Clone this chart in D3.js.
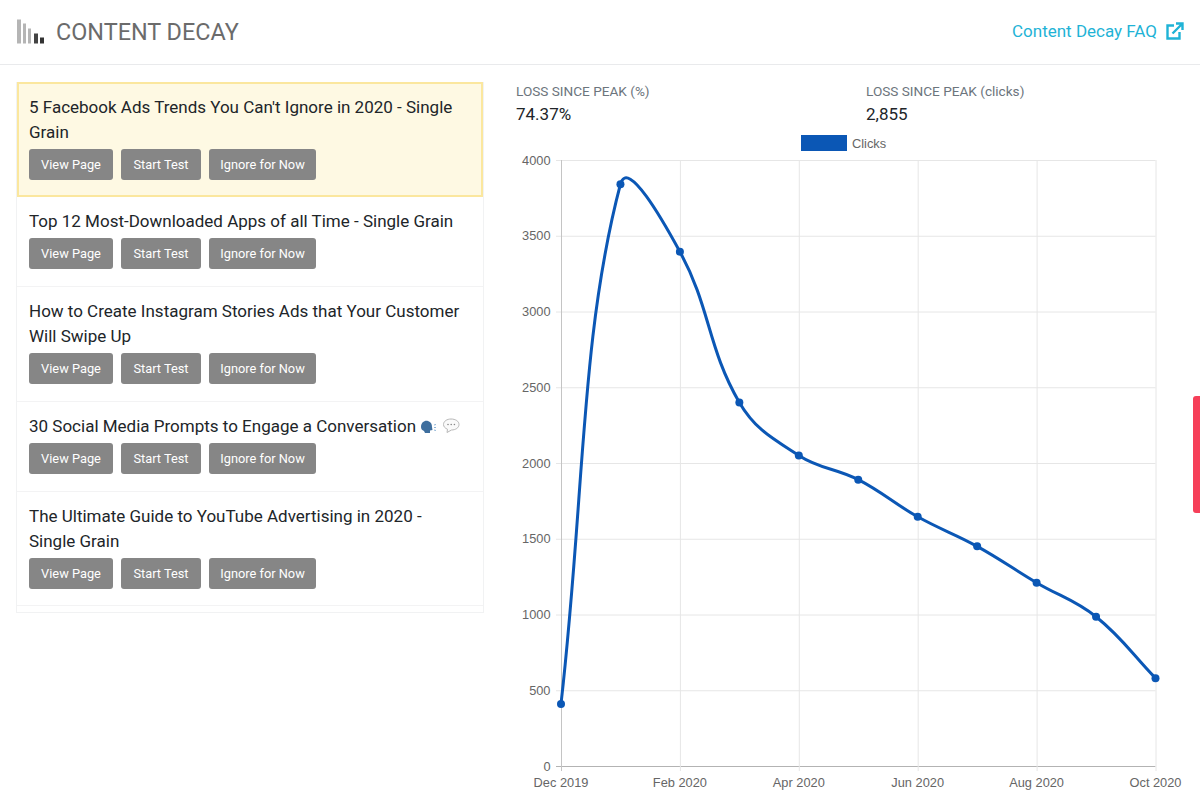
<!DOCTYPE html>
<html>
<head>
<meta charset="utf-8">
<script src="https://d3js.org/d3.v7.min.js"></script>
<style>
    html, body { margin: 0; padding: 0; background: #fff; }
    body { width: 1200px; height: 806px; overflow: hidden; position: relative; font-family: Roboto, sans-serif; color: #212529; }
    .header-line { position: absolute; left: 0; top: 64px; width: 1200px; height: 1px; background: #e9eaec; }
    .title { position: absolute; left: 56px; top: 16.5px; font-size: 23.4px; line-height: 30px; color: #6b6b6b; }
    .faq { position: absolute; left: 1012px; top: 20px; font-size: 17px; line-height: 23px; color: #1fb3d6; }
    .page-list { position: absolute; left: 16px; top: 82px; width: 465.5px; height: 530px; border: 1px solid #f1f2f3; border-top: 0; }
    .item { position: absolute; left: 0; width: 465.5px; box-sizing: border-box; padding: 12px 12px 0 12px; border-bottom: 1px solid #f3f3f4; }
    .item.active { background: #fef9e3; border: 2px solid #fbe79e; padding: 11px 10px 0 10px; top: 0; }
    .item-title { font-size: 17px; line-height: 25px; white-space: pre-wrap; }
    .item-title svg { vertical-align: -3px; margin-left: 3px; }
    .btn { display: inline-block; height: 31px; line-height: 31px; margin: 4px 8px 0 0; border-radius: 3px; background: #868686; color: #fff; font-size: 12.8px; text-align: center; }
    .stat-label { position: absolute; top: 82px; font-size: 13.6px; line-height: 18px; color: #6c757d; }
    .stat-value { position: absolute; top: 103px; font-size: 17px; line-height: 22px; color: #212529; }
    .tab { position: absolute; left: 1193px; top: 396px; width: 7px; height: 117px; background: #f63f59; border-radius: 3px 0 0 3px; }
    svg.abs { position: absolute; }
    #chart { position: absolute; left: 0; top: 0; }
    #chart text { font-family: "Liberation Sans", Arial, sans-serif; font-size: 12.8px; fill: #666; }
</style>
</head>
<body>
<script>
// Chart data
const months = ['Dec 2019', 'Jan 2020', 'Feb 2020', 'Mar 2020', 'Apr 2020', 'May 2020', 'Jun 2020', 'Jul 2020', 'Aug 2020', 'Sep 2020', 'Oct 2020'];
const clicks = [410, 3840, 3395, 2400, 2050, 1890, 1645, 1450, 1210, 985, 580];
const monthTicks = ['Dec 2019', 'Feb 2020', 'Apr 2020', 'Jun 2020', 'Aug 2020', 'Oct 2020'];
const clickTicks = [0, 500, 1000, 1500, 2000, 2500, 3000, 3500, 4000];
const seriesName = 'Clicks';

// Side panel data
const pageTitles = [
    "5 Facebook Ads Trends You Can't Ignore in 2020 - Single Grain",
    'Top 12 Most-Downloaded Apps of all Time - Single Grain',
    'How to Create Instagram Stories Ads that Your Customer Will Swipe Up',
    '30 Social Media Prompts to Engage a Conversation',
    'The Ultimate Guide to YouTube Advertising in 2020 - Single Grain'
];
const itemTops = [0, 115, 205, 319.5, 409.5];
const buttonLabels = ['View Page', 'Start Test', 'Ignore for Now'];
const buttonWidths = [84, 80, 107];
const statLabels = ['LOSS SINCE PEAK (%)', 'LOSS SINCE PEAK (clicks)'];
const statValues = ['74.37%', '2,855'];
const statLefts = [516, 866];

const body = d3.select('body');

// Header
body.append('div').attr('class', 'header-line');
body.append('div').attr('class', 'title').text('CONTENT DECAY');
body.append('div').attr('class', 'faq').text('Content Decay FAQ');

const logo = body.append('svg').attr('class', 'abs')
    .style('left', '17px').style('top', '19px')
    .attr('width', 28).attr('height', 25);
logo.selectAll('rect')
    .data([[0, 0, 4, '#b5b5b5'], [6, 4, 3, '#b5b5b5'], [11, 9, 3, '#b5b5b5'], [17, 14, 4, '#444'], [23, 18, 4, '#333']])
    .enter()
    .append('rect')
    .attr('x', d => d[0])
    .attr('y', d => d[1] + 0.5)
    .attr('width', d => d[2])
    .attr('height', d => 24 - d[1])
    .attr('fill', d => d[3]);

const linkIcon = body.append('svg').attr('class', 'abs')
    .style('left', '1165px').style('top', '21px')
    .attr('width', 19).attr('height', 20)
    .attr('viewBox', '0 0 19 20');
linkIcon.append('path')
    .attr('d', 'M9 4.5H2.5V17.5H14.5V11 M7.5 12.5L17 3 M11 2.5H17.5V9')
    .attr('fill', 'none')
    .attr('stroke', '#1fb3d6')
    .attr('stroke-width', 2.4);

// Page list
const items = body.append('div').attr('class', 'page-list')
    .selectAll('.item')
    .data(pageTitles)
    .enter()
    .append('div')
    .attr('class', (d, i) => i === 0 ? 'item active' : 'item')
    .style('top', (d, i) => itemTops[i] + 'px')
    .style('height', (d, i) => ((itemTops[i + 1] || 524) - itemTops[i]) + 'px');

const itemTitles = items.append('div').attr('class', 'item-title').text(d => d);

// Emoji pair after the fourth title, no emoji font is installed
const emoji = itemTitles.filter((d, i) => i === 3).append('svg')
    .attr('width', 44).attr('height', 17).attr('viewBox', '0 0 44 17');
emoji.append('path')
    .attr('d', 'M2 9C2 4 6 2 9 3C12 4 13 6 13 9L13.5 12L11 12.5V15H6L5 13C3 12 2 11 2 9Z')
    .attr('fill', '#3f6f9e');
emoji.append('path')
    .attr('d', 'M15 7L17 6.5 M15 9.5H17 M15 12L17 12.5')
    .attr('stroke', '#8fb4d6').attr('stroke-width', 1);
emoji.append('path')
    .attr('d', 'M32 1C36.5 1 40 3.2 40 6.5C40 9.8 36.5 12 32.5 12L28 14.5L28.5 11.3C26 10.2 24.5 8.6 24.5 6.5C24.5 3.2 28 1 32 1Z')
    .attr('fill', '#fafafa').attr('stroke', '#b8b8b8').attr('stroke-width', 1);
emoji.selectAll('circle')
    .data([29, 32.2, 35.4])
    .enter()
    .append('circle')
    .attr('cx', d => d).attr('cy', 6.5).attr('r', 0.8).attr('fill', '#888');

items.selectAll('.btn')
    .data(buttonLabels)
    .enter()
    .append('span')
    .attr('class', 'btn')
    .style('width', (d, i) => buttonWidths[i] + 'px')
    .text(d => d);

// Stats above the chart
body.selectAll('.stat-label')
    .data(statLabels)
    .enter()
    .append('div')
    .attr('class', 'stat-label')
    .style('left', (d, i) => statLefts[i] + 'px')
    .text(d => d);

body.selectAll('.stat-value')
    .data(statValues)
    .enter()
    .append('div')
    .attr('class', 'stat-value')
    .style('left', (d, i) => statLefts[i] + 'px')
    .text(d => d);

body.append('div').attr('class', 'tab');

// Chart
const svg = body.append('svg')
    .attr('id', 'chart')
    .attr('width', 1200)
    .attr('height', 806);

const x = d3.scalePoint().domain(months).range([561, 1155.5]);
const y = d3.scaleLinear().domain([0, 4000]).range([766, 160]);

// Grid lines
svg.selectAll('.grid-y')
    .data(clickTicks)
    .enter()
    .append('line')
    .attr('x1', 556)
    .attr('x2', x.range()[1])
    .attr('y1', d => y(d) + 0.5)
    .attr('y2', d => y(d) + 0.5)
    .attr('stroke', d => d === 0 ? '#b3b3b3' : '#e6e6e6');

svg.selectAll('.grid-x')
    .data(monthTicks)
    .enter()
    .append('line')
    .attr('x1', d => x(d) + 0.5)
    .attr('x2', d => x(d) + 0.5)
    .attr('y1', y(4000))
    .attr('y2', y(0) + 5)
    .attr('stroke', d => d === monthTicks[0] ? '#c4c4c4' : '#e6e6e6');

// Tick labels
svg.selectAll('.y-label')
    .data(clickTicks)
    .enter()
    .append('text')
    .attr('x', 550.5)
    .attr('y', d => y(d) + 4.5)
    .attr('text-anchor', 'end')
    .text(d => d);

svg.selectAll('.x-label')
    .data(monthTicks)
    .enter()
    .append('text')
    .attr('x', d => x(d))
    .attr('y', 787)
    .attr('text-anchor', 'middle')
    .text(d => d);

// Legend
svg.append('rect')
    .attr('x', 801)
    .attr('y', 135)
    .attr('width', 46)
    .attr('height', 16)
    .attr('fill', '#0b57b5');

svg.append('text')
    .attr('x', 852)
    .attr('y', 148)
    .text(seriesName);

/**
 * Spline with control points scaled by segment length, tension 0.4
 */
function tensionCurve(context) {
    let pts = [];
    return {
        areaStart() {},
        areaEnd() {},
        lineStart() { pts = []; },
        point(px, py) { pts.push([px, py]); },
        lineEnd() {
            const t = 0.4;
            const ctrl = pts.map((p, i) => {
                const a = pts[Math.max(i - 1, 0)];
                const b = pts[Math.min(i + 1, pts.length - 1)];
                const d01 = Math.hypot(p[0] - a[0], p[1] - a[1]);
                const d12 = Math.hypot(b[0] - p[0], b[1] - p[1]);
                const total = (d01 + d12) || 1;
                const fa = t * d01 / total;
                const fb = t * d12 / total;
                return {
                    prev: [p[0] - fa * (b[0] - a[0]), p[1] - fa * (b[1] - a[1])],
                    next: [p[0] + fb * (b[0] - a[0]), p[1] + fb * (b[1] - a[1])]
                };
            });
            context.moveTo(pts[0][0], pts[0][1]);
            for (let i = 1; i < pts.length; i++) {
                context.bezierCurveTo(
                    ctrl[i - 1].next[0], ctrl[i - 1].next[1],
                    ctrl[i].prev[0], ctrl[i].prev[1],
                    pts[i][0], pts[i][1]
                );
            }
        }
    };
}

const line = d3.line()
    .x((d, i) => x(months[i]))
    .y(d => y(d))
    .curve(tensionCurve);

svg.append('path')
    .datum(clicks)
    .attr('d', line)
    .attr('fill', 'none')
    .attr('stroke', '#0b57b5')
    .attr('stroke-width', 3);

svg.selectAll('.point')
    .data(clicks)
    .enter()
    .append('circle')
    .attr('class', 'point')
    .attr('cx', (d, i) => x(months[i]))
    .attr('cy', d => y(d))
    .attr('r', 4)
    .attr('fill', '#0b57b5');
</script>
</body>
</html>
